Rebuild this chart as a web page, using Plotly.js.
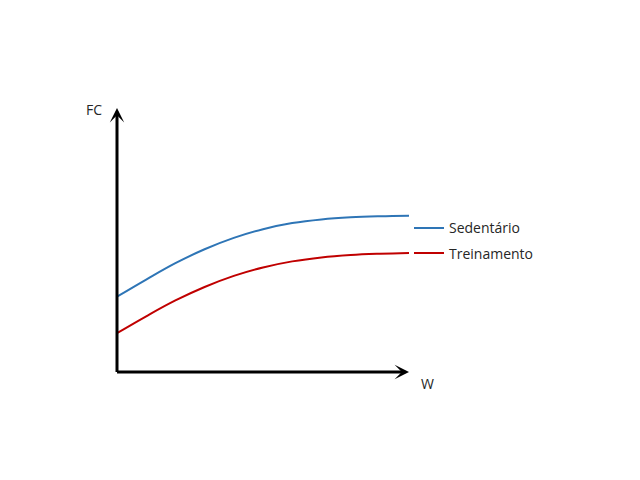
<!DOCTYPE html>
<html>
<head>
<meta charset="utf-8">
<script src="https://cdn.plot.ly/plotly-3.0.1.min.js"></script>
<style>html,body{margin:0;padding:0;background:#fff;}#chart{width:640px;height:480px;}</style>
</head>
<body>
<div id="chart"></div>
<script>
// Workload (W) in arbitrary units
const workload = [0, 10, 20, 30, 40, 50, 60, 70, 80, 90, 100];
// Heart rate (FC), arbitrary units
const sedentario = [28.5, 35.0, 41.2, 46.5, 50.8, 54.1, 56.4, 57.8, 58.6, 59.0, 59.2];
const treinamento = [14.7, 21.1, 27.1, 32.2, 36.4, 39.6, 41.9, 43.4, 44.3, 44.8, 45.1];
const seriesNames = ['Sedentário', 'Treinamento'];
const seriesColors = ['#2e75b6', '#c00000'];
const axisLabels = {x: 'W', y: 'FC'};

const font = 'Open Sans, Liberation Sans, sans-serif';

const traces = [sedentario, treinamento].map((vals, i) => ({
  x: workload, y: vals, type: 'scatter', mode: 'lines',
  name: seriesNames[i], legendgroup: 'g' + i,
  line: {color: seriesColors[i], width: 2, shape: 'spline', smoothing: 1.1},
  hoverinfo: 'skip'
}));

const layout = {
  width: 640, height: 480,
  margin: {l: 117, r: 231, t: 108, b: 108, pad: 0},
  paper_bgcolor: '#fff', plot_bgcolor: '#fff',
  xaxis: {range: [0, 100], visible: false, fixedrange: true},
  yaxis: {range: [0, 100], visible: false, fixedrange: true},
  showlegend: true,
  legend: {
    x: 1.0, y: 0.605, xanchor: 'left', yanchor: 'top',
    font: {family: font, size: 14, color: '#262626'},
    bgcolor: 'rgba(0,0,0,0)', traceorder: 'grouped', tracegroupgap: 4,
    itemwidth: 30
  },
  annotations: [
    {x: 0, y: 100, ax: 0, ay: -0.6, xref: 'x', yref: 'y', axref: 'x', ayref: 'y',
     showarrow: true, arrowhead: 3, arrowsize: 0.8, arrowwidth: 3, arrowcolor: '#000', text: ''},
    {x: 100, y: 0, ax: -0.5, ay: 0, xref: 'x', yref: 'y', axref: 'x', ayref: 'y',
     showarrow: true, arrowhead: 3, arrowsize: 0.8, arrowwidth: 3, arrowcolor: '#000', text: ''},
    {x: -0.08, y: 0.996, xref: 'paper', yref: 'paper', xanchor: 'center', yanchor: 'middle',
     text: axisLabels.y, showarrow: false,
     font: {family: font, size: 14, color: '#262626'}},
    {x: 1.062, y: -0.042, xref: 'paper', yref: 'paper', xanchor: 'center', yanchor: 'middle',
     text: axisLabels.x, showarrow: false,
     font: {family: font, size: 14, color: '#262626'}}
  ]
};

Plotly.newPlot('chart', traces, layout, {staticPlot: true, displayModeBar: false});
</script>
</body>
</html>
